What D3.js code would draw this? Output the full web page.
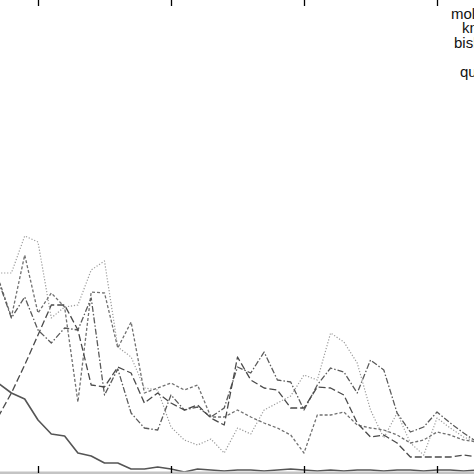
<!DOCTYPE html>
<html><head><meta charset="utf-8">
<script src="https://cdn.jsdelivr.net/npm/d3@7"></script>
<style>html,body{margin:0;padding:0;background:#fff;overflow:hidden}svg{display:block}</style>
</head><body>
<script>
// x positions are period indices; ticks on indices below
const xTicks = [3, 13, 23, 33];
const seriesNames = ["molecular", "knowledge", "bishop", "quantum"];
const legendRow = [0, 1, 2, 4];
const solid   = [4.45,3.95,3.65,2.6,1.9,1.8,0.95,0.8,0.45,0.45,0.15,0.15,0.25,0.15,0,0.15,0.1,0.05,0.1,0.1,0.05,0.1,0.15,0.1,0.05,0.1,0.05,0.1,0.1,0.05,0.1,0.1,0.05,0.1,0.1,0.05,0.1];
const dotted  = [9.95,9.95,11.8,11.5,7.7,8.25,8.35,10.1,10.55,6.25,5.75,4.2,4.1,2.25,1.6,1.35,1.65,0.95,2.2,1.9,3.1,3.45,3.8,4.85,4.6,6.95,6.5,5.45,3.1,1.7,2.95,1.45,0.85,2.7,2.2,1.75,1.5];
const shortDash = [9.7,7.75,10.85,7.95,8.95,8.25,3.5,9.0,8.95,6.2,7.5,3.95,4.2,4.45,4.1,4.35,2.75,2.75,3.1,2.75,2.45,2.2,1.85,0.95,2.85,2.85,3.0,2.35,2.2,2.1,1.85,1.45,1.6,2.0,1.85,1.6,1.5];
const longDash = [2.75,3.95,5.35,6.85,8.35,8.35,7.1,4.35,4.25,5.25,4.95,3.45,3.95,3.45,3.1,3.35,2.7,2.35,5.75,4.6,4.2,4.1,3.2,3.2,4.25,4.2,3.85,2.45,1.75,1.85,1.45,0.75,0.75,0.75,0.75,0.85,0.75];
const dashDot = [9.6,7.7,8.75,7.1,6.45,7.2,7.1,8.7,3.85,5.15,2.95,2.2,2.1,3.85,3.1,3.25,2.75,3.2,5.25,4.95,6.0,4.6,4.5,3.1,4.35,5.2,5.0,3.95,5.6,5.1,2.95,2.0,2.25,3.0,2.45,1.95,1.5];

const W = 474, H = 474;
const svg = d3.select("body").append("svg").attr("width", W).attr("height", H);

const x = d3.scaleLinear().domain([0, solid.length - 1]).range([-1.9, 476.9]);
const y = d3.scaleLinear().domain([0, 23.6]).range([472, 0]);

const styles = [
  {data: dotted, stroke: "#9a9a9a", width: 1.2, dash: "1.2,1.8"},
  {data: shortDash, stroke: "#707070", width: 1.3, dash: "3,2"},
  {data: dashDot, stroke: "#5a5a5a", width: 1.3, dash: "6,2,1.5,2"},
  {data: longDash, stroke: "#4a4a4a", width: 1.3, dash: "7,3"},
  {data: solid, stroke: "#555", width: 1.6, dash: null}
];

const line = d3.line().x((d, i) => x(i)).y(d => y(d));

svg.selectAll("path.series").data(styles).join("path")
  .attr("class", "series")
  .attr("fill", "none")
  .attr("stroke", d => d.stroke)
  .attr("stroke-width", d => d.width)
  .attr("stroke-dasharray", d => d.dash)
  .attr("stroke-linejoin", "round")
  .attr("d", d => line(d.data));

// bottom axis
const bottomAxis = svg.append("g").attr("transform", `translate(0,${H - 1})`)
  .call(d3.axisBottom(x).tickValues(xTicks).tickSizeInner(-7).tickSizeOuter(0).tickFormat(""));
bottomAxis.select(".domain").attr("stroke", "#c4c4c4").attr("stroke-width", 4);
bottomAxis.selectAll(".tick line").attr("stroke", "#000").attr("stroke-width", 1.3);

// top axis
const topAxis = svg.append("g").attr("transform", "translate(0,0)")
  .call(d3.axisTop(x).tickValues(xTicks).tickSizeInner(-6).tickSizeOuter(0).tickFormat(""));
topAxis.select(".domain").remove();
topAxis.selectAll(".tick line").attr("stroke", "#000").attr("stroke-width", 1.3);

// legend (clipped at the right edge, as in the source)
const legendX = [451, 462, 454, 460];
svg.append("g").selectAll("text").data(seriesNames).join("text")
  .attr("x", (d, i) => legendX[i])
  .attr("y", (d, i) => 18.7 + legendRow[i] * 14.5)
  .attr("font-family", "Liberation Sans, Arial, sans-serif")
  .attr("font-size", 15)
  .attr("fill", "#111")
  .text(d => d);
</script>
</body></html>
